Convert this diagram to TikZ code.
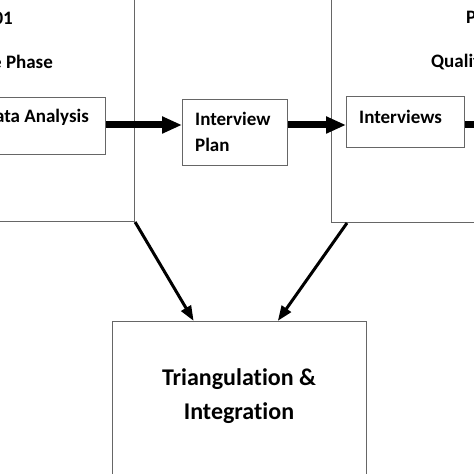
\documentclass[tikz,border=0pt]{standalone}
\usepackage{fontspec}
\setmainfont{Carlito}[Ligatures=NoCommon]
\usetikzlibrary{arrows.meta,calc}

\begin{document}
\begin{tikzpicture}[x=1pt,y=1pt,
  box/.style={draw=black!60, line width=1.1pt, inner sep=0pt, anchor=south west},
  lbl/.style={font=\bfseries\fontsize{19}{26}\selectfont, inner sep=0pt, align=left},
  flow/.style={line width=7pt, -{Triangle[length=20pt,width=16pt]}},
  feed/.style={line width=3pt, -{Triangle[length=15pt,width=11pt]}}]
\useasboundingbox (0,0) rectangle (474,474);
\clip (0,0) rectangle (474,474);
% the two phases
\node[box, minimum width=334pt, minimum height=240pt] (quant) at (-200,252) {};
\node[box, minimum width=300pt, minimum height=240pt] (qual) at (331,251) {};
% steps
\node[box, minimum width=205pt, minimum height=57pt] (data) at (-100,319) {};
\node[box, minimum width=105pt, minimum height=66pt] (plan) at (182,308) {};
\node[box, minimum width=118pt, minimum height=51pt] (intv) at (346,326) {};
\node[box, minimum width=254pt, minimum height=172pt] (triang) at (112,-20) {};
% texts
\node[lbl, anchor=base east] (quanttitle) at (13,449) {Phase 01};
\node[lbl, anchor=base east] (quantname) at (53,405) {Quantitative Phase};
\node[lbl, anchor=base east] (datatext) at (89,351) {Data Analysis};
\node[lbl, anchor=base west] (qualtitle) at (466,450) {Phase 02};
\node[lbl, anchor=base west] (qualname) at (431,406) {Qualitative Phase};
\node[lbl, anchor=base west] (intvtext) at (359,350.5) {Interviews};
\node[lbl, anchor=base west] (plantext) at (195,322) {Interview\\Plan};
\node[lbl, anchor=base, align=center, font=\bfseries\fontsize{24}{34}\selectfont] (triangtext) at (239,54) {Triangulation \&\\Integration};
% arrows
\coordinate (mid) at (0,349);
\coordinate (exit) at (495,349);
\draw[flow] (data.east |- mid) -- (plan.west |- mid);
\draw[flow] (plan.east |- mid) -- (intv.west |- mid);
\draw[flow] (intv.east |- mid) -- (exit);
\draw[feed] (quant.south east) -- ($(triang.north west)!0.32!(triang.north east)$);
\draw[feed] ([xshift=16pt]qual.south west) -- ($(triang.north west)!0.65!(triang.north east)$);
\end{tikzpicture}
\end{document}
